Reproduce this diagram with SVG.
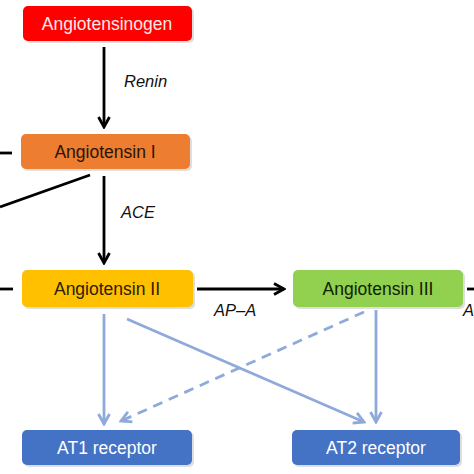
<svg xmlns="http://www.w3.org/2000/svg" width="474" height="474" viewBox="0 0 474 474">
<style>
.box{stroke:none}
.sh{fill:#c8c8c8;opacity:0.6}
.t{font-family:"Liberation Sans",Arial,sans-serif;font-size:17.5px;text-anchor:middle;dominant-baseline:central}
.lbl{font-family:"Liberation Sans",Arial,sans-serif;font-size:16.5px;font-style:italic;fill:#111}
.k{stroke:#000;stroke-width:2.8;fill:none}
.b{stroke:#8eaadb;stroke-width:2.8;fill:none}
.d{stroke:#8eaadb;stroke-width:2.8;fill:none;stroke-dasharray:10 7}
</style>
<defs>
<marker id="ak" viewBox="0 0 14 14" refX="12" refY="7" markerWidth="14" markerHeight="14" markerUnits="userSpaceOnUse" orient="auto"><path d="M2,1.5 L12,7 L2,12.5" fill="none" stroke="#000" stroke-width="2.8"/></marker>
<marker id="ab" viewBox="0 0 14 14" refX="12" refY="7" markerWidth="14" markerHeight="14" markerUnits="userSpaceOnUse" orient="auto"><path d="M2,1.5 L12,7 L2,12.5" fill="none" stroke="#8eaadb" stroke-width="2.8"/></marker>
</defs>
<rect width="474" height="474" fill="#fff"/>
<g id="connectors">
<line class="k" x1="104" y1="47" x2="104" y2="127" marker-end="url(#ak)"/>
<line class="k" x1="104" y1="176" x2="104" y2="263" marker-end="url(#ak)"/>
<line class="k" x1="0" y1="153" x2="12" y2="153"/>
<line class="k" x1="90" y1="175" x2="0" y2="207"/>
<line class="k" x1="0" y1="289" x2="13" y2="289"/>
<line class="k" x1="197" y1="289" x2="284" y2="289" marker-end="url(#ak)"/>
<line class="k" x1="467" y1="289" x2="474" y2="289"/>
<line class="b" x1="104" y1="314" x2="104" y2="424" marker-end="url(#ab)"/>
<line class="b" x1="127" y1="319" x2="364" y2="422" marker-end="url(#ab)"/>
<line class="d" x1="364" y1="312" x2="121" y2="421" marker-end="url(#ab)"/>
<line class="b" x1="376" y1="310" x2="376" y2="422" marker-end="url(#ab)"/>
<text class="lbl" x="124" y="87">Renin</text>
<text class="lbl" x="121" y="218">ACE</text>
<text class="lbl" x="214" y="316">AP–A</text>
<text class="lbl" x="463" y="316">A</text>
</g>
<g id="angiotensinogen">
<rect class="sh" x="25" y="8" width="169" height="35" rx="5"/>
<rect class="box" x="23" y="6" width="169" height="35" rx="5" fill="#ff0000"/>
<text class="t" x="107" y="24" fill="#fde9e7">Angiotensinogen</text>
</g>
<g id="angiotensin1">
<rect class="sh" x="23" y="136" width="169" height="35" rx="5"/>
<rect class="box" x="21" y="134" width="169" height="35" rx="5" fill="#ed7d31"/>
<text class="t" x="105" y="152" fill="#2b1408">Angiotensin I</text>
</g>
<g id="angiotensin2">
<rect class="sh" x="24" y="272" width="171" height="37" rx="5"/>
<rect class="box" x="22" y="270" width="171" height="37" rx="5" fill="#ffc000"/>
<text class="t" x="107" y="289" fill="#2b2000">Angiotensin II</text>
</g>
<g id="angiotensin3">
<rect class="sh" x="295" y="272" width="170" height="37" rx="5"/>
<rect class="box" x="293" y="270" width="170" height="37" rx="5" fill="#92d050"/>
<text class="t" x="378" y="289" fill="#112200">Angiotensin III</text>
</g>
<g id="at1">
<rect class="sh" x="24" y="432" width="170" height="35" rx="5"/>
<rect class="box" x="22" y="430" width="170" height="35" rx="5" fill="#4472c4"/>
<text class="t" x="107" y="448" fill="#fff">AT1 receptor</text>
</g>
<g id="at2">
<rect class="sh" x="294" y="432" width="168" height="35" rx="5"/>
<rect class="box" x="292" y="430" width="168" height="35" rx="5" fill="#4472c4"/>
<text class="t" x="376" y="448" fill="#fff">AT2 receptor</text>
</g>
</svg>
